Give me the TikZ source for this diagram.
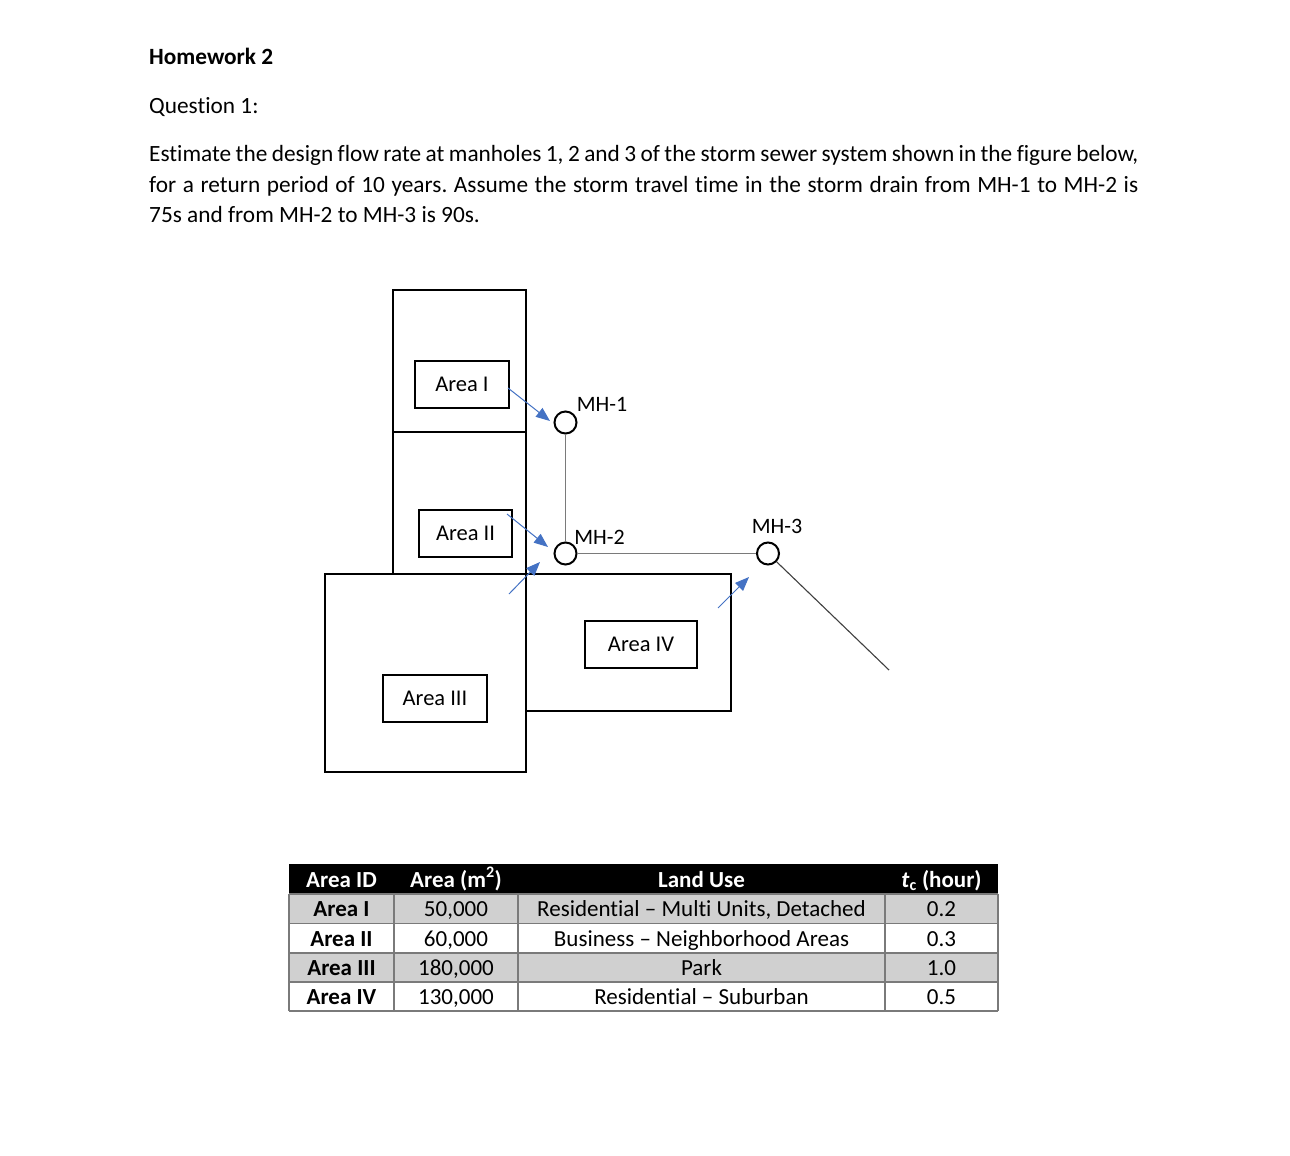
\documentclass[tikz,border=0pt]{standalone}
\usepackage{fontspec}
\setmainfont{Carlito}[Ligatures={NoCommon}]
\usetikzlibrary{arrows.meta}
\definecolor{arrowblue}{HTML}{4472C4}
\definecolor{pipegray}{HTML}{7A7A7A}
\definecolor{rowgray}{HTML}{D0D0D0}
\definecolor{gridgray}{HTML}{7A7A7A}
\definecolor{outletgray}{HTML}{404040}
\frenchspacing
\begin{document}
\begin{tikzpicture}[x=1pt,y=-1pt,
  bodytext/.style={anchor=base west, inner sep=0pt, font=\fontsize{23.3}{28}\selectfont},
  areabox/.style={draw, line width=2pt},
  labelbox/.style={draw, line width=1.3pt, minimum height=47pt, inner sep=0pt, font=\fontsize{22.5}{26}\selectfont},
  mh/.style={circle, draw, line width=2pt, minimum size=22pt, inner sep=0pt, fill=white},
  mhlabel/.style={inner sep=0pt, font=\fontsize{22}{26}\selectfont},
  pipe/.style={draw=pipegray, line width=1.8pt},
  outlet/.style={draw=outletgray, line width=1.1pt},
  flow/.style={draw=arrowblue, line width=1pt, -{Triangle[length=14pt,width=11pt]}},
  cell/.style={anchor=base, inner sep=0pt, font=\fontsize{23}{26}\selectfont},
  headcell/.style={anchor=base, inner sep=0pt, text=white, font=\fontsize{23}{26}\selectfont\bfseries},
  idcell/.style={anchor=base, inner sep=0pt, font=\fontsize{23}{26}\selectfont\bfseries},
  grid/.style={draw=gridgray, line width=1.3pt}]
\useasboundingbox (0,0) rectangle (1290,1156);
\fill[white] (0,0) rectangle (1290,1156);

% ---- text ----
\node[bodytext] (hw) at (149,65) {\textbf{Homework 2}};
\node[bodytext] (q1) at (149,113) {Question 1:};
\node[bodytext] (l1) at (149,161) {\makebox[989pt][s]{Estimate the design flow rate at manholes 1, 2 and 3 of the storm sewer system shown in the figure below,}};
\node[bodytext] (l2) at (149,192) {\makebox[989pt][s]{for a return period of 10 years. Assume the storm travel time in the storm drain from MH-1 to MH-2 is}};
\node[bodytext] (l3) at (149,222) {75s and from MH-2 to MH-3 is 90s.};

% ---- catchment areas ----
\draw[areabox] (393,290) rectangle (526,432);
\draw[areabox] (393,432) rectangle (526,574);
\draw[areabox] (325,574) rectangle (526,772);
\draw[areabox] (526,574) rectangle (731,711);

\node[labelbox, minimum width=94pt] (a1) at (462,384.5) {Area I\hspace{4pt}};
\node[labelbox, minimum width=93pt] (a2) at (465.5,533.5) {Area II};
\node[labelbox, minimum width=104pt] (a3) at (435,698.5) {Area III};
\node[labelbox, minimum width=112pt] (a4) at (641,644.5) {Area IV\hspace{10pt}};

% ---- manholes ----
\node[mh] (mh1) at (565.5,422.5) {};
\node[mh] (mh2) at (565.5,553.5) {};
\node[mh] (mh3) at (768,553.5) {};
\coordinate (out) at (889,670);

\draw[pipe] (mh1) -- (mh2);
\draw[pipe] (mh2) -- (mh3);
\draw[outlet] (mh3) -- (out);

\node[mhlabel] (mh1l) at (602,404) {MH-1};
\node[mhlabel] (mh2l) at (599.5,537) {MH-2};
\node[mhlabel] (mh3l) at (777,526) {MH-3};

% ---- inflow arrows ----
\coordinate (s1) at (508,388); \coordinate (t1) at (550,421);
\coordinate (s2) at (507,514); \coordinate (t2) at (548,547);
\coordinate (s3) at (509,594); \coordinate (t3) at (540,562);
\coordinate (s4) at (718,608); \coordinate (t4) at (749,577);
\draw[flow] (s1) -- (t1);
\draw[flow] (s2) -- (t2);
\draw[flow] (s3) -- (t3);
\draw[flow] (s4) -- (t4);

% ---- table ----
\fill[black] (289,864) rectangle (998,894);
\fill[rowgray] (289,894) rectangle (998,923.5);
\fill[rowgray] (289,953) rectangle (998,982);
\foreach \yy in {894,923.5,953,982,1011} \draw[grid] (289,\yy) -- (998,\yy);
\foreach \xx in {289,394,518,885,998} \draw[grid] (\xx,894) -- (\xx,1011);

\node[headcell] (h1) at (341.5,887) {Area ID};
\node[headcell] (h2) at (456,887) {Area (m\textsuperscript{2})};
\node[headcell] (h3) at (701.5,887) {Land Use};
\node[headcell] (h4) at (941.5,887) {\textit{t}\textsubscript{c} (hour)};

\node[idcell] (r1c1) at (341.5,916.5) {Area I};
\node[cell] (r1c2) at (456,916.5) {50,000};
\node[cell] (r1c3) at (701.5,916.5) {Residential – Multi Units, Detached};
\node[cell] (r1c4) at (941.5,916.5) {0.2};

\node[idcell] (r2c1) at (341.5,946) {Area II};
\node[cell] (r2c2) at (456,946) {60,000};
\node[cell] (r2c3) at (701.5,946) {Business – Neighborhood Areas};
\node[cell] (r2c4) at (941.5,946) {0.3};

\node[idcell] (r3c1) at (341.5,975.5) {Area III};
\node[cell] (r3c2) at (456,975.5) {180,000};
\node[cell] (r3c3) at (701.5,975.5) {Park};
\node[cell] (r3c4) at (941.5,975.5) {1.0};

\node[idcell] (r4c1) at (341.5,1004.5) {Area IV};
\node[cell] (r4c2) at (456,1004.5) {130,000};
\node[cell] (r4c3) at (701.5,1004.5) {Residential – Suburban};
\node[cell] (r4c4) at (941.5,1004.5) {0.5};
\end{tikzpicture}
\end{document}
